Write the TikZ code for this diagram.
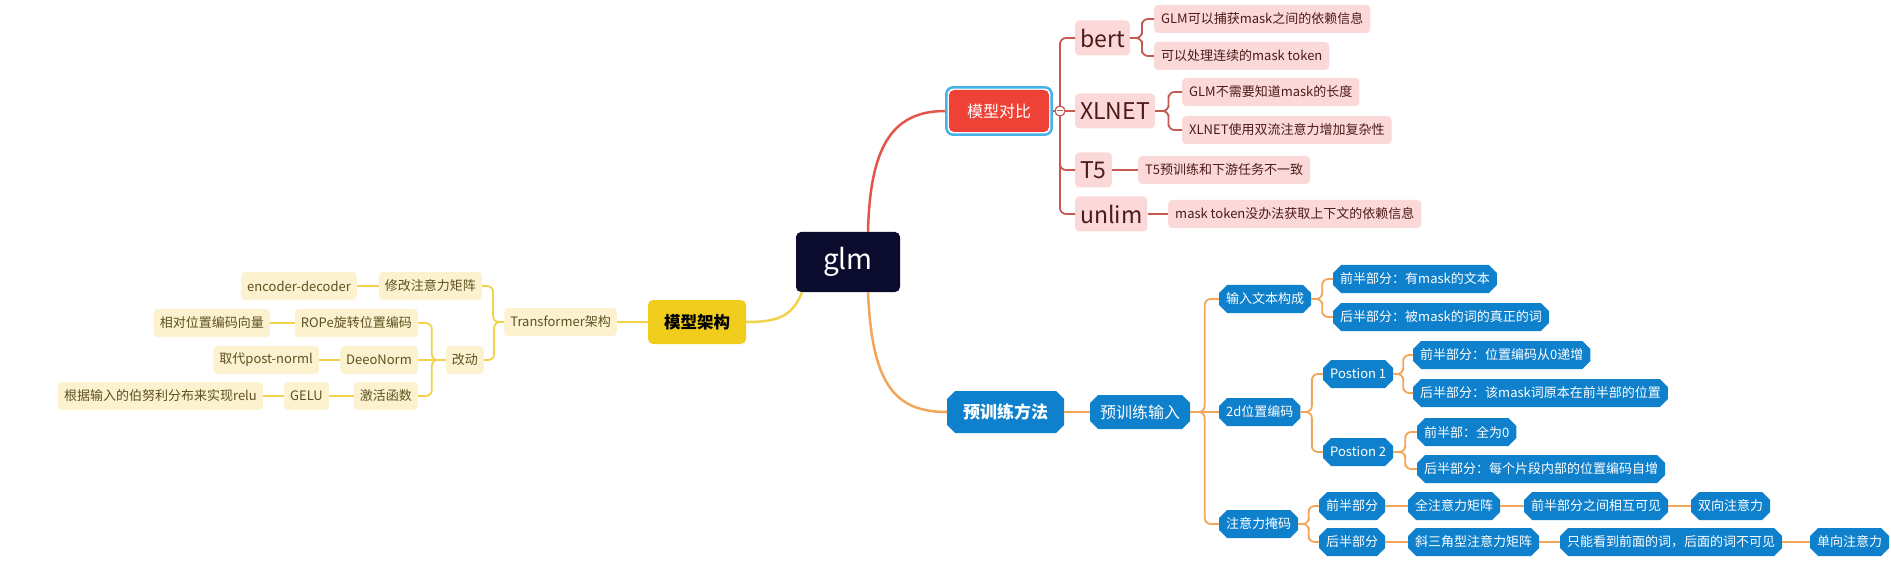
\documentclass[tikz,border=0pt]{standalone}
\usepackage{fontspec}
\setmainfont{Noto Sans CJK SC}
\usepackage{xcolor}
\usepackage{tikz}
\usetikzlibrary{
  positioning,
  calc,
  fit,
  shapes.misc
}

\definecolor{glmnavy}{HTML}{0B0B2E}
\definecolor{cmpred}{HTML}{EE4236}
\definecolor{cmpframe}{HTML}{45B3E6}
\definecolor{redline}{HTML}{C45A52}
\definecolor{redcurve}{HTML}{E4564A}
\definecolor{pinkbg}{HTML}{FAD9D8}
\definecolor{redtext}{HTML}{4E1A1A}
\definecolor{archyel}{HTML}{F0CC1C}
\definecolor{yelbg}{HTML}{FCF2CF}
\definecolor{yeltext}{HTML}{5E5020}
\definecolor{yelline}{HTML}{F1D24A}
\definecolor{preblue}{HTML}{0E80CC}
\definecolor{oraline}{HTML}{F2A65A}

\tikzset{
  rootbox/.style={fill=glmnavy, text=white, rounded corners=5pt,
    minimum width=104pt, minimum height=60pt, font=\fontsize{28}{30}\selectfont},
  cmpbox/.style={fill=cmpred, text=white, rounded corners=5pt,
    minimum width=100pt, minimum height=42pt, font=\fontsize{16}{18}\selectfont},
  pinkbig/.style={fill=pinkbg, text=redtext, rounded corners=4pt, inner xsep=5pt,
    minimum height=35pt, font=\fontsize{23}{25}\selectfont},
  pinkleaf/.style={fill=pinkbg, text=redtext, rounded corners=4pt, inner xsep=7pt,
    minimum height=28pt, font=\fontsize{13}{15}\selectfont},
  archbox/.style={fill=archyel, text=black, rounded corners=5pt,
    minimum width=98pt, minimum height=44pt, font=\fontsize{16.5}{18}\selectfont\bfseries},
  yelleaf/.style={fill=yelbg, text=yeltext, rounded corners=4pt, inner xsep=6pt,
    minimum height=28pt, font=\fontsize{13}{15}\selectfont},
  bluebox/.style={chamfered rectangle, chamfered rectangle sep=4pt, fill=preblue,
    text=white, inner xsep=3pt, minimum height=28pt, font=\fontsize{13}{15}\selectfont},
  bluemid/.style={bluebox, inner xsep=6pt, minimum height=34pt,
    font=\fontsize{16}{18}\selectfont},
  bluemain/.style={bluebox, inner xsep=12pt, minimum height=42pt,
    font=\fontsize{17}{19}\selectfont\bfseries},
  redcon/.style={redline, line width=1.8pt, rounded corners=6pt},
  yelcon/.style={yelline, line width=1.8pt, rounded corners=6pt},
  oracon/.style={oraline, line width=1.8pt, rounded corners=6pt}
}

\begin{document}
\begin{tikzpicture}[x=1pt, y=-1pt]
  \fill[white] (0,0) rectangle (1891,564);
  \useasboundingbox (0,0) rectangle (1891,564);
  % 中心
  \node[rootbox] (glm) at (848,262) {glm};
  \node[cmpbox] (cmp) at (999,111) {模型对比};
  \node[fit=(cmp), inner sep=2.5pt, draw=cmpframe, line width=2.5pt, rounded corners=7pt] (cmpf) {};
  \node[archbox] (arch) at (697,322) {模型架构};
  \node[bluemain, anchor=west] (pre) at (947,412) {预训练方法};
  \draw[redcurve, line width=2.5pt] ([xshift=20pt]glm.north) .. controls (870,150) and (890,111) .. (cmpf.west);
  \draw[yelline, line width=2.5pt] ([xshift=-46pt]glm.south) .. controls (792,318) and (775,322) .. (arch.east);
  \draw[oraline, line width=2.5pt] ([xshift=20pt]glm.south) .. controls (872,385) and (895,412) .. (pre.west);

  % 模型对比
  \coordinate (dotc) at (1060,111);
  \node[pinkbig, anchor=west] (bert) at (1075,38) {bert};
  \node[pinkbig, anchor=west] (xlnet) at (1075,111) {XLNET};
  \node[pinkbig, anchor=west] (tfive) at (1075,170) {T5};
  \node[pinkbig, anchor=west] (unlim) at (1075,214) {unlim};
  \node[pinkleaf, anchor=west] (bertA) at (1154,19) {GLM可以捕获mask之间的依赖信息};
  \node[pinkleaf, anchor=west] (bertB) at (1154,56) {可以处理连续的mask token};
  \node[pinkleaf, anchor=west] (xlA) at (1182,92) {GLM不需要知道mask的长度};
  \node[pinkleaf, anchor=west] (xlB) at (1182,130) {XLNET使用双流注意力增加复杂性};
  \node[pinkleaf, anchor=west] (tfA) at (1138,170) {T5预训练和下游任务不一致};
  \node[pinkleaf, anchor=west] (unA) at (1168,214) {mask token没办法获取上下文的依赖信息};
  \draw[redcon] (cmpf.east) -- (dotc);
  \foreach \c in {bert,xlnet,tfive,unlim}
    \draw[redcon] (dotc) |- (\c.west);
  \foreach \p/\c in {bert/bertA, bert/bertB, xlnet/xlA, xlnet/xlB}
    \draw[redcon] (\p.east) -| ($(\p.east)!.5!(\c.west)$) |- (\c.west);
  \foreach \p/\c in {tfive/tfA, unlim/unA}
    \draw[redcon] (\p.east) -- (\c.west);
  \node[circle, draw=redline, line width=1.2pt, fill=white, minimum size=10pt, inner sep=0pt] (dot) at (dotc) {};
  \draw[redline, line width=1pt] ([xshift=2.5pt]dot.west) -- ([xshift=-2.5pt]dot.east);

  % 模型架构
  \node[yelleaf, anchor=east] (trans) at (617,322) {Transformer架构};
  \node[yelleaf, anchor=east] (attmod) at (482,286) {修改注意力矩阵};
  \node[yelleaf, anchor=east] (encdec) at (357,286) {encoder-decoder};
  \node[yelleaf, anchor=east] (change) at (484,360) {改动};
  \node[yelleaf, anchor=east] (rope) at (418,323) {ROPe旋转位置编码};
  \node[yelleaf, anchor=east] (relpos) at (270,323) {相对位置编码向量};
  \node[yelleaf, anchor=east] (deep) at (418,360) {DeeoNorm};
  \node[yelleaf, anchor=east] (postn) at (319,360) {取代post-norml};
  \node[yelleaf, anchor=east] (actf) at (418,396) {激活函数};
  \node[yelleaf, anchor=east] (gelu) at (329,396) {GELU};
  \node[yelleaf, anchor=east] (bern) at (263,396) {根据输入的伯努利分布来实现relu};
  \foreach \a/\b in {arch/trans, attmod/encdec, rope/relpos, deep/postn, actf/gelu, gelu/bern}
    \draw[yelcon] (\a.west) -- (\b.east);
  \foreach \p/\c in {trans/attmod, trans/change, change/rope, change/actf}
    \draw[yelcon] (\p.west) -| ($(\p.west)!.5!(\c.east)$) |- (\c.east);
  \draw[yelcon] (change.west) -- (deep.east);

  % 预训练方法
  \node[bluemid, anchor=west] (preinput) at (1090,412) {预训练输入};
  \node[bluebox, anchor=west] (txt) at (1219,299) {输入文本构成};
  \node[bluebox, anchor=west] (pos) at (1219,412) {2d位置编码};
  \node[bluebox, anchor=west] (mask) at (1219,524) {注意力掩码};
  \node[bluebox, anchor=west] (txtA) at (1333,279) {前半部分：有mask的文本};
  \node[bluebox, anchor=west] (txtB) at (1333,317) {后半部分：被mask的词的真正的词};
  \node[bluebox, anchor=west] (posA) at (1323,374) {Postion 1};
  \node[bluebox, anchor=west] (posB) at (1323,452) {Postion 2};
  \node[bluebox, anchor=west] (posAa) at (1413,355) {前半部分：位置编码从0递增};
  \node[bluebox, anchor=west] (posAb) at (1413,393) {后半部分：该mask词原本在前半部的位置};
  \node[bluebox, anchor=west] (posBa) at (1417,432) {前半部：全为0};
  \node[bluebox, anchor=west] (posBb) at (1417,469) {后半部分：每个片段内部的位置编码自增};
  \node[bluebox, anchor=west] (maskA) at (1319,506) {前半部分};
  \node[bluebox, anchor=west] (maskB) at (1319,542) {后半部分};
  \node[bluebox, anchor=west] (fullatt) at (1408,506) {全注意力矩阵};
  \node[bluebox, anchor=west] (seeall) at (1524,506) {前半部分之间相互可见};
  \node[bluebox, anchor=west] (biatt) at (1691,506) {双向注意力};
  \node[bluebox, anchor=west] (triatt) at (1408,542) {斜三角型注意力矩阵};
  \node[bluebox, anchor=west] (seeprev) at (1560,542) {只能看到前面的词，后面的词不可见};
  \node[bluebox, anchor=west] (uniatt) at (1810,542) {单向注意力};
  \foreach \a/\b in {pre/preinput, preinput/pos, maskA/fullatt, fullatt/seeall, seeall/biatt,
                     maskB/triatt, triatt/seeprev, seeprev/uniatt}
    \draw[oracon] (\a.east) -- (\b.west);
  \foreach \p/\c in {preinput/txt, preinput/mask, txt/txtA, txt/txtB,
                     pos/posA, pos/posB, posA/posAa, posA/posAb, posB/posBa, posB/posBb,
                     mask/maskA, mask/maskB}
    \draw[oracon] (\p.east) -| ($(\p.east)!.5!(\c.west)$) |- (\c.west);
\end{tikzpicture}
\end{document}
